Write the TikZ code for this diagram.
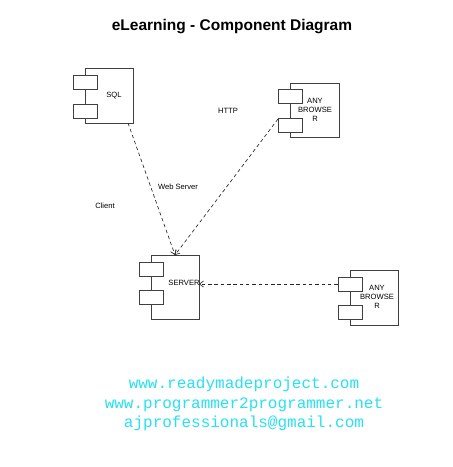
\documentclass[tikz,border=0pt]{standalone}
\usepackage{fontspec}
\setmainfont{Liberation Sans}
\newfontfamily\monof{Liberation Mono}
\usetikzlibrary{arrows.meta}
\definecolor{footc}{RGB}{40,225,240}
\tikzset{
  comp/.style={draw=black!75, line width=0.7pt, fill=white, inner sep=0pt},
  port/.style={draw=black!75, line width=0.7pt, fill=white, minimum width=24pt, minimum height=14pt, inner sep=0pt},
  lbl/.style={font=\fontsize{7.6}{9}\selectfont, align=center, text=black},
  dep/.style={draw=black!85, line width=0.65pt, dash pattern=on 3.5pt off 2.8pt, -{Straight Barb[length=4pt,width=6pt]}},
}
\begin{document}
\begin{tikzpicture}[x=1pt,y=-1pt]
\useasboundingbox (0,0) rectangle (453,467);
\fill[white] (0,0) rectangle (453,467);
\node[font=\fontsize{15.5}{18}\selectfont\bfseries] (title) at (232,27) {eLearning - Component Diagram};

% SQL
\draw[comp] (85,68) rectangle (133,123);
\coordinate (sqlb) at (128,123);
\draw[black!75,line width=0.7pt] (85,89) -- (85,104);
\node[port] (sqlp1) at (85,82) {};
\node[port] (sqlp2) at (85,111) {};
\node[lbl] (sql) at (114,96) {SQL};

% Browser 1
\draw[comp] (290,83) rectangle (339,137);
\draw[black!75,line width=0.7pt] (290,103) -- (290,118);
\node[port] (b1p1) at (290,96) {};
\node[port] (b1p2) at (290,125) {};
\node[lbl] (b1) at (315,110) {ANY\\BROWSE\\R};

% Server
\draw[comp] (151,255) rectangle (199,319);
\coordinate (srvt) at (175,255);
\coordinate (srvr) at (199,284);
\draw[black!75,line width=0.7pt] (151,275) -- (151,290);
\node[port] (sp1) at (151,269) {};
\node[port] (sp2) at (151,297) {};
\node[lbl] (srv) at (184,283) {SERVER};

% Browser 2
\draw[comp] (350,270) rectangle (398,325);
\draw[black!75,line width=0.7pt] (350,290) -- (350,305);
\node[port] (b2p1) at (350,284) {};
\node[port] (b2p2) at (350,312) {};
\node[lbl] (b2) at (377,297) {ANY\\BROWSE\\R};

% connectors
\coordinate (b1a) at (278,119);
\draw[dep] (sqlb) -- (srvt);
\draw[dep] (b1a) -- (srvt);
\draw[dep] (b2p1.west) -- (srvr);

% labels
\node[lbl] (http) at (228,111) {HTTP};
\node[lbl] (ws) at (178,187) {Web Server};
\node[lbl] (cl) at (105,206) {Client};

% footer
\node[font=\monof\fontsize{16}{19.5}\selectfont, text=footc, align=center] (foot) at (244,404)
 {www.readymadeproject.com\\www.programmer2programmer.net\\ajprofessionals@gmail.com};
\end{tikzpicture}
\end{document}
